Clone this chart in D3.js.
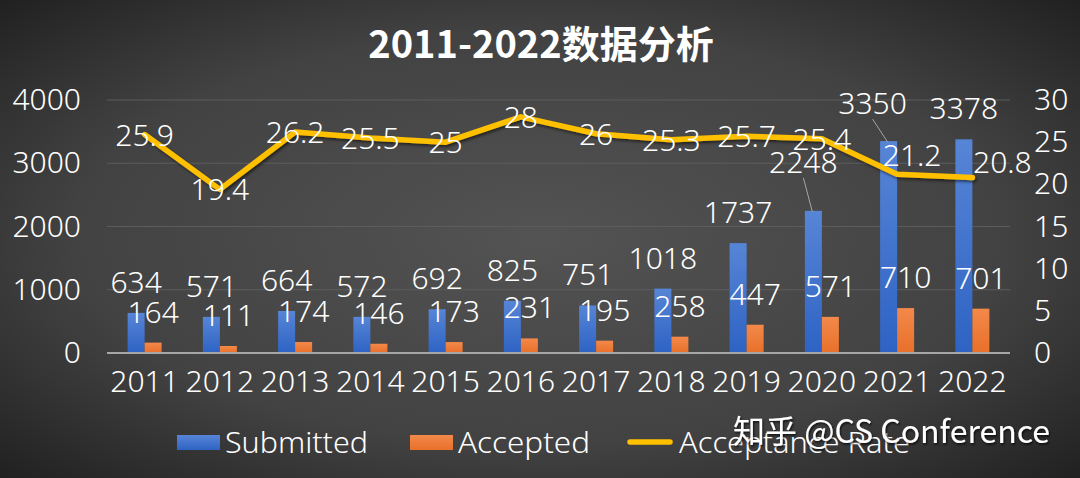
<!DOCTYPE html>
<html><head><meta charset="utf-8">
<script src="https://cdn.jsdelivr.net/npm/d3@7"></script>
<style>
html,body{margin:0;padding:0;background:#333;}
svg{display:block;}
text{font-family:"Noto Sans","Noto Sans CJK SC",sans-serif;}
</style></head>
<body>
<script>
const years = ["2011","2012","2013","2014","2015","2016","2017","2018","2019","2020","2021","2022"];
const submitted = [634,571,664,572,692,825,751,1018,1737,2248,3350,3378];
const accepted = [164,111,174,146,173,231,195,258,447,571,710,701];
const rate = [25.9,19.4,26.2,25.5,25,28,26,25.3,25.7,25.4,21.2,20.8];
const leftTicks = [0,1000,2000,3000,4000];
const rightTicks = [0,5,10,15,20,25,30];
const title = "2011-2022数据分析";
const legendNames = ["Submitted","Accepted","Acceptance Rate"];
const watermark = "知乎 @CS Conference";

(function(){
const W = 1080, H = 478;
const FS = 30;
const svg = d3.select("body").append("svg").attr("width", W).attr("height", H);
const defs = svg.append("defs");

const bg = defs.append("radialGradient").attr("id","bg").attr("cx","0.5").attr("cy","0.5").attr("r","0.72");
bg.append("stop").attr("offset","0").attr("stop-color","#535353");
bg.append("stop").attr("offset","0.6").attr("stop-color","#424242");
bg.append("stop").attr("offset","1").attr("stop-color","#1f1f1f");
svg.append("rect").attr("width",W).attr("height",H).attr("fill","url(#bg)");

const gb = defs.append("linearGradient").attr("id","gBlue").attr("x1",0).attr("y1",0).attr("x2",0).attr("y2",1);
gb.append("stop").attr("offset","0").attr("stop-color","#5785d6");
gb.append("stop").attr("offset","1").attr("stop-color","#2e63c4");
const go = defs.append("linearGradient").attr("id","gOrange").attr("x1",0).attr("y1",0).attr("x2",0).attr("y2",1);
go.append("stop").attr("offset","0").attr("stop-color","#f3894a");
go.append("stop").attr("offset","1").attr("stop-color","#e8702a");

const sh = defs.append("filter").attr("id","shadow").attr("x","-10%").attr("y","-30%").attr("width","120%").attr("height","160%");
sh.append("feDropShadow").attr("dx",1.5).attr("dy",2).attr("stdDeviation",1.8).attr("flood-color","#000").attr("flood-opacity",0.55);
const tsh = defs.append("filter").attr("id","tshadow");
tsh.append("feDropShadow").attr("dx",1).attr("dy",1.5).attr("stdDeviation",1.2).attr("flood-color","#000").attr("flood-opacity",0.8);

const pL = 107, pR = 1010, pT = 100, pB = 353;
const x = d3.scaleBand().domain(years).range([pL, pR]).padding(0);
const bw = x.bandwidth();
const xs = d3.scaleBand().domain(["s","a"]).range([bw/2 - 17, bw/2 + 17]);
const yL = d3.scaleLinear().domain([0,4000]).range([pB, pT]);
const yR = d3.scaleLinear().domain([0,30]).range([pB, pT]);

// title
svg.append("text").attr("x", 541).attr("y", 58).attr("text-anchor","middle")
  .attr("fill","#fff").attr("font-size",38).attr("font-weight","bold")
  .style("font-family",'"Noto Sans CJK SC","Noto Sans",sans-serif').text(title);

// gridlines
svg.append("g").selectAll("line").data(leftTicks.filter(d=>d>0)).join("line")
  .attr("x1",pL).attr("x2",pR).attr("y1",d=>yL(d)).attr("y2",d=>yL(d))
  .attr("stroke","#5c5c5c").attr("stroke-width",1);

const axText = s => s.attr("fill","#fff").attr("font-size",FS).attr("font-weight",300)
  .style("font-family",'"Noto Sans",sans-serif');

// left axis
const axL = svg.append("g").attr("transform",`translate(${pL},0)`)
  .call(d3.axisLeft(yL).tickValues(leftTicks).tickFormat(d3.format("d")).tickSize(0).tickPadding(26));
axL.select(".domain").remove();
axL.selectAll("text").call(axText);

// right axis
const axR = svg.append("g").attr("transform",`translate(${pR},0)`)
  .call(d3.axisRight(yR).tickValues(rightTicks).tickSize(0).tickPadding(24));
axR.select(".domain").remove();
axR.selectAll("text").call(axText);

// bottom axis
const axB = svg.append("g").attr("transform",`translate(0,${pB})`)
  .call(d3.axisBottom(x).tickSize(0).tickPadding(18));
axB.select(".domain").remove();
axB.selectAll("text").call(axText).attr("dy","0.71em");

// bars
const idx = d3.range(years.length);
svg.append("g").selectAll("rect").data(idx).join("rect")
  .attr("x", i => x(years[i]) + xs("s")).attr("width", xs.bandwidth())
  .attr("y", i => yL(submitted[i])).attr("height", i => pB - yL(submitted[i]))
  .attr("fill","url(#gBlue)");
svg.append("g").selectAll("rect").data(idx).join("rect")
  .attr("x", i => x(years[i]) + xs("a")).attr("width", xs.bandwidth())
  .attr("y", i => yL(accepted[i])).attr("height", i => pB - yL(accepted[i]))
  .attr("fill","url(#gOrange)");

// baseline
svg.append("line").attr("x1",pL).attr("x2",pR).attr("y1",pB).attr("y2",pB)
  .attr("stroke","#a6a6a6").attr("stroke-width",2);

// line
const cx = i => x(years[i]) + bw/2;
const line = d3.line().x(i => cx(i)).y(i => yR(rate[i]));
svg.append("path").datum(idx).attr("d", line).attr("fill","none")
  .attr("stroke","#ffc000").attr("stroke-width",5.5).attr("stroke-linejoin","round")
  .attr("stroke-linecap","round").attr("filter","url(#shadow)");

// label nudges (pixels) for labels moved off their default place
const subNudge = {"2020":[-10,-18], "2021":[-16,-7]};
const rateNudge = {"2021":[15,-19], "2022":[30,-16]};

const labelFont = g => g.call(axText).attr("text-anchor","middle");

// leader lines
const leaders = svg.append("g");
years.forEach((yr,i) => {
  if (subNudge[yr]) {
    const bx = x(yr) + xs("s") + xs.bandwidth()/2, by = yL(submitted[i]);
    const n = subNudge[yr];
    leaders.append("line").attr("x1", bx + n[0]).attr("y1", by - 31 + n[1] + 16)
      .attr("x2", bx - 1).attr("y2", by + 1).attr("stroke","#a6a6a6").attr("stroke-width",1);
  }
});

svg.append("g").selectAll("text").data(idx).join("text").call(labelFont)
  .attr("x", i => x(years[i]) + xs("s") + xs.bandwidth()/2 + (subNudge[years[i]]||[0,0])[0])
  .attr("y", i => yL(submitted[i]) - 20 + (subNudge[years[i]]||[0,0])[1])
  .text(i => submitted[i]);
svg.append("g").selectAll("text").data(idx).join("text").call(labelFont)
  .attr("x", i => x(years[i]) + xs("a") + xs.bandwidth()/2)
  .attr("y", i => yL(accepted[i]) - 20)
  .text(i => accepted[i]);
svg.append("g").selectAll("text").data(idx).join("text").call(labelFont)
  .attr("x", i => cx(i) + (rateNudge[years[i]]||[0,0])[0])
  .attr("y", i => yR(rate[i]) + 11 + (rateNudge[years[i]]||[0,0])[1])
  .text(i => rate[i]);

// legend
const lg = svg.append("g");
const ly = 442;
lg.append("rect").attr("x",177).attr("y",ly-7).attr("width",43).attr("height",15).attr("fill","url(#gBlue)");
lg.append("rect").attr("x",410).attr("y",ly-7).attr("width",43).attr("height",15).attr("fill","url(#gOrange)");
lg.append("line").attr("x1",630).attr("x2",670).attr("y1",ly).attr("y2",ly)
  .attr("stroke","#ffc000").attr("stroke-width",5.5).attr("stroke-linecap","round");
const legX = [225, 458, 679];
lg.selectAll("text").data(legendNames).join("text")
  .attr("x",(d,i)=>legX[i]).attr("y",ly+11).attr("fill","#fff").attr("font-size",30).attr("font-weight",300)
  .attr("textLength",(d,i)=>[143,132,231][i]).attr("lengthAdjust","spacingAndGlyphs")
  .style("font-family",'"Noto Sans",sans-serif').text(d=>d);

// watermark
svg.append("text").attr("x",1050).attr("y",443).attr("text-anchor","end")
  .attr("fill","#fff").attr("font-size",32).attr("filter","url(#tshadow)")
  .style("font-family",'"Noto Sans CJK SC","Noto Sans",sans-serif').text(watermark);
})();
</script>
</body></html>
